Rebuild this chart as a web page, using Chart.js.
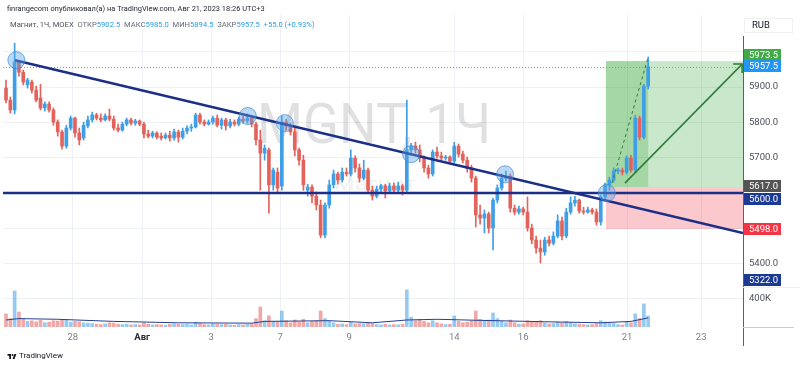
<!DOCTYPE html>
<html><head><meta charset="utf-8">
<script src="https://cdn.jsdelivr.net/npm/chart.js@4"></script>
<style>
html,body{margin:0;padding:0;background:#fff;width:800px;height:367px;overflow:hidden}
#wrap{position:relative;width:800px;height:367px}
canvas{position:absolute;left:0;top:0}
.t{position:absolute;white-space:nowrap;font-family:Roboto,sans-serif;line-height:1}
.v{color:#2f9be0}
</style></head><body>
<div id="wrap">
<canvas id="c" width="800" height="367"></canvas>
<div class="t" id="h1" style="left:7px;top:5px;font-size:9px;color:#1e222d">finrangecom опубликовал(а) на TradingView.com, Авг 21, 2023 18:26 UTC+3</div>
<div class="t" id="h2" style="left:10px;top:21px;font-size:9px;color:#6a6d78"></div>
<div class="t" id="ft" style="left:7px;top:352px;font-size:8px;color:#131722;display:flex;align-items:center"><svg width="10" height="7" viewBox="0 0 36 28" style="margin-right:2px"><path d="M14 24H7V11H0V4h14v20zM28 24h-8l7.5-20h8L28 24z" fill="#131722"/><circle cx="20" cy="8" r="4" fill="#131722"/></svg><span id="ftx">TradingView</span></div>
</div>
<script>
// ---- data (hourly candles, MOEX:MGNT) ----
const opens = [
5897,5863,5835,5971,5942,5906,5914,5891,5869,5841,
5852,5835,5801,5773,5733,5784,5812,5770,5756,5790,
5807,5821,5812,5807,5818,5809,5784,5778,5795,5807,
5798,5804,5795,5767,5761,5770,5761,5756,5764,5756,
5773,5758,5775,5784,5787,5821,5801,5795,5801,5812,
5792,5807,5790,5801,5795,5809,5804,5812,5795,5750,
5713,5722,5623,5659,5620,5801,5790,5773,5722,5693,
5608,5617,5591,5566,5481,5566,5623,5654,5637,5659,
5654,5699,5671,5642,5665,5608,5591,5611,5620,5606,
5620,5608,5620,5608,5722,5733,5722,5699,5671,5654,
5716,5705,5699,5702,5690,5733,5710,5693,5671,5642,
5538,5529,5541,5501,5580,5614,5642,5648,5557,5546,
5555,5546,5501,5467,5444,5433,5467,5458,5478,5521,
5478,5546,5572,5580,5549,5546,5552,5546,5518,5589,
5623,5637,5662,5665,5659,5699,5665,5812,5758,5902.5];
const closes = [
5863,5835,5971,5942,5914,5920,5891,5863,5841,5852,
5835,5801,5773,5733,5784,5812,5770,5750,5792,5807,
5821,5812,5807,5818,5809,5784,5778,5795,5807,5798,
5804,5795,5767,5761,5770,5758,5756,5764,5756,5773,
5758,5775,5784,5787,5821,5801,5795,5801,5812,5792,
5807,5790,5801,5795,5809,5804,5812,5795,5750,5713,
5727,5623,5665,5614,5801,5790,5773,5722,5693,5623,
5617,5591,5566,5481,5566,5623,5654,5637,5659,5654,
5699,5671,5642,5665,5608,5591,5611,5620,5606,5620,
5608,5620,5608,5722,5733,5722,5699,5671,5654,5716,
5705,5699,5702,5690,5733,5710,5693,5671,5642,5538,
5529,5541,5501,5580,5614,5642,5648,5557,5546,5555,
5546,5501,5467,5444,5433,5467,5458,5478,5521,5478,
5546,5572,5580,5549,5546,5552,5546,5518,5589,5623,
5637,5662,5665,5659,5699,5665,5812,5758,5902.5,5957.5];
const highs = [
5920,5872,6024,5976,5948,5925,5920,5903,5908,5858,
5858,5841,5807,5778,5792,5818,5815,5784,5801,5818,
5829,5826,5824,5824,5838,5818,5795,5801,5812,5812,
5809,5807,5801,5778,5775,5773,5770,5770,5775,5781,
5778,5784,5790,5795,5826,5826,5807,5807,5818,5821,
5812,5812,5809,5807,5815,5818,5824,5818,5801,5778,
5736,5727,5671,5671,5818,5809,5798,5784,5727,5707,
5625,5623,5603,5580,5572,5637,5665,5659,5671,5671,
5722,5705,5682,5693,5671,5620,5620,5625,5625,5628,
5628,5631,5625,5863,5741,5744,5736,5705,5679,5722,
5730,5716,5707,5705,5744,5739,5719,5702,5679,5648,
5566,5552,5546,5586,5623,5654,5662,5654,5566,5563,
5560,5589,5512,5478,5467,5475,5478,5490,5538,5532,
5557,5589,5591,5583,5560,5560,5557,5555,5594,5628,
5645,5671,5671,5671,5705,5707,5820,5818,5908,5985];
const lows = [
5855,5826,5824,5931,5906,5897,5883,5858,5835,5832,
5829,5792,5761,5724,5727,5778,5758,5736,5750,5784,
5801,5807,5801,5804,5804,5778,5773,5775,5790,5792,
5792,5790,5756,5756,5756,5753,5750,5753,5747,5750,
5744,5753,5767,5775,5784,5795,5790,5792,5795,5787,
5781,5778,5784,5790,5790,5798,5798,5787,5736,5608,
5693,5543,5608,5603,5608,5778,5764,5705,5679,5608,
5591,5572,5552,5473,5473,5557,5614,5625,5631,5648,
5648,5659,5631,5637,5600,5580,5586,5603,5586,5600,
5600,5603,5594,5600,5707,5713,5688,5659,5642,5648,
5699,5693,5693,5685,5685,5702,5685,5659,5631,5504,
5512,5487,5487,5439,5572,5608,5634,5546,5538,5540,
5538,5492,5456,5430,5402,5424,5450,5453,5473,5467,
5473,5540,5563,5543,5540,5543,5540,5509,5509,5580,
5608,5631,5654,5651,5654,5659,5659,5750,5753,5894.5];
const volumesK = [
186,120,514,214,110,80,90,75,95,60,
70,90,85,100,95,70,80,75,60,55,
50,40,35,45,60,55,40,35,40,30,
35,30,60,40,30,35,30,25,40,45,
40,35,40,30,70,50,35,30,45,40,
35,40,30,25,35,30,40,45,120,286,
90,160,80,75,229,90,60,100,70,110,
60,80,90,229,120,90,60,40,45,35,
70,45,50,45,60,50,35,30,40,30,
35,30,40,530,140,90,110,80,60,90,
60,45,35,40,157,80,60,70,90,229,
110,90,100,200,120,80,60,100,60,40,
45,90,80,70,90,60,45,50,70,60,
80,60,45,40,35,30,35,50,90,70,
60,50,35,30,80,60,186,120,330,157];
const volMAIdx  = [0, 3, 12, 25, 40, 57, 60, 75, 85, 93, 100, 110, 125, 138, 145, 149];
const volMAK    = [100,120,110,80, 60, 55, 80, 90, 60,100, 110, 95,  75,  60,  80, 130];

// time axis
const timeTickIdx = [15.5, 31.6, 47.6, 63.6, 79.6, 104.0, 120.0, 144.1, 161.3];
const timeTickLabels = ['28','Авг','3','7','9','14','16','21','23'];
// price axis
const priceTicks = [5400,5500,5600,5700,5800,5900,6000];
const priceLabelled = [5400,5700,5800,5900];
const volTicks = [400000];

// drawings
const trendIdx = [2.09, 171];   const trendVal = [5976, 5487];
const levelIdx = [-0.7, 171];   const levelVal = [5600, 5600];
const touchIdx = [2.4, 56.1, 64.7, 94.0, 115.8, 139.4];
const touchVal = [5976, 5818, 5798, 5710, 5653, 5600];
const dashIdx  = [140.6, 149];  const dashVal  = [5628, 5985];
const arrowIdx = [143.6, 170.8];const arrowVal = [5628, 5965];
const posStartIdx = 139.2, posNowIdx = 149;
const targetPrice = 5973.5, entryPrice = 5617.0, stopPrice = 5498.0, lastPrice = 5957.5;
const tagValues = [5973.5, 5957.5, 5617.0, 5600.0, 5498.0, 5322.0];
const tagColors = ['#43a947','#2196f3','#545454','#1b3a93','#f23645','#1b3a93'];
const tagShift  = [-6.5, -1, -1, 5.5, 0, 0];

// ---- header from data ----
(function(){
  const n = closes.length - 1;
  const ch = closes[n] - closes[n-1];
  const pct = ch / closes[n-1] * 100;
  const f = v => v.toFixed(1);
  document.getElementById('h2').innerHTML =
    '<span style="color:#50535e">Магнит, 1Ч, MOEX</span>&nbsp;&nbsp;ОТКР<span class="v">'+f(opens[n])+
    '</span>&nbsp;&nbsp;МАКС<span class="v">'+f(highs[n])+'</span>&nbsp;&nbsp;МИН<span class="v">'+f(lows[n])+
    '</span>&nbsp;&nbsp;ЗАКР<span class="v">'+f(closes[n])+'</span>&nbsp;&nbsp;<span class="v">'+(ch>=0?'+':'')+f(ch)+
    ' ('+(pct>=0?'+':'')+pct.toFixed(2)+'%)</span>';
  const fit = (id, target) => { const el = document.getElementById(id);
    const fs = parseFloat(el.style.fontSize); const w = el.getBoundingClientRect().width;
    if (w > 0) el.style.fontSize = (fs * target / w) + 'px'; };
  fit('h1', 258); fit('h2', 305);
})();

const UP = '#3f9fe6', DOWN = '#e3635c';
const upOrDown = c => (closes[c.dataIndex] >= opens[c.dataIndex] ? UP : DOWN);
const idx = opens.map((_, i) => i);

Chart.defaults.font.family = 'Roboto, sans-serif';

const overlay = {
  id: 'overlay',
  beforeDatasetsDraw(chart) {
    const {ctx, chartArea: a, scales: {x, y}} = chart;
    ctx.save();
    ctx.beginPath(); ctx.rect(a.left, a.top, a.right - a.left, a.bottom - a.top); ctx.clip();
    // watermark
    ctx.fillStyle = 'rgba(0,0,0,0.12)';
    ctx.font = '56px Roboto, sans-serif';
    let t = 'MGNT, 1Ч', w = ctx.measureText(t).width;
    ctx.save(); ctx.translate(257, 143); ctx.scale(234 / w, 1); ctx.fillText(t, 0, 0); ctx.restore();
    ctx.fillStyle = 'rgba(0,0,0,0.06)';
    ctx.font = '18px Roboto, sans-serif';
    t = 'Магнит'; w = ctx.measureText(t).width;
    ctx.save(); ctx.translate(334, 190); ctx.scale(82 / w, 1); ctx.fillText(t, 0, 0); ctx.restore();
    // long position
    const xl = x.getPixelForValue(posStartIdx), xn = x.getPixelForValue(posNowIdx), xr = a.right;
    const yt = y.getPixelForValue(targetPrice), ye = y.getPixelForValue(entryPrice), ys = y.getPixelForValue(stopPrice);
    ctx.fillStyle = 'rgba(76,175,80,0.30)';
    ctx.fillRect(xl, yt, xr - xl, ye - yt);
    ctx.fillStyle = 'rgba(76,175,80,0.30)';
    ctx.fillRect(xl, yt, xn - xl, ye - yt);
    ctx.fillStyle = 'rgba(242,54,69,0.27)';
    ctx.fillRect(xl, ye, xr - xl, ys - ye);
    // last price dotted line
    const yl = Math.round(y.getPixelForValue(lastPrice)) + 0.5;
    ctx.strokeStyle = '#7fa08f'; ctx.lineWidth = 1; ctx.setLineDash([1, 2]);
    ctx.beginPath(); ctx.moveTo(a.left, yl); ctx.lineTo(a.right, yl); ctx.stroke();
    ctx.restore();
  },
  afterDatasetsDraw(chart) {
    const {ctx, scales: {x, y}} = chart;
    const x2 = x.getPixelForValue(arrowIdx[1]), y2 = y.getPixelForValue(arrowVal[1]);
    ctx.save();
    ctx.strokeStyle = '#2e7d32'; ctx.lineWidth = 1.5;
    ctx.beginPath(); ctx.moveTo(x2 - 9, y2); ctx.lineTo(x2, y2); ctx.lineTo(x2, y2 + 9); ctx.stroke();
    ctx.restore();
  },
  afterDraw(chart) {
    const {ctx, chartArea: a, scales: {y}} = chart;
    ctx.save();
    ctx.strokeStyle = '#5d606b'; ctx.lineWidth = 1;
    ctx.beginPath(); ctx.moveTo(a.right + 0.5, 36); ctx.lineTo(a.right + 0.5, 346); ctx.stroke();
    ctx.strokeStyle = '#c9ccd3';
    ctx.beginPath(); ctx.moveTo(a.right, 327.5); ctx.lineTo(794, 327.5); ctx.stroke();
    ctx.strokeStyle = '#eceef2';
    ctx.beginPath(); ctx.moveTo(a.right, 287.5); ctx.lineTo(800, 287.5); ctx.stroke();
    ctx.fillStyle = '#fff'; ctx.fillRect(a.right + 1, 18, 49, 15);
    ctx.strokeStyle = '#eef0f3'; ctx.strokeRect(a.right + 1.5, 18.5, 48, 14);
    ctx.fillStyle = '#131722'; ctx.font = '9.5px Roboto, sans-serif'; ctx.textBaseline = 'middle';
    ctx.fillText('RUB', a.right + 9, 26);
    const paneBottom = y.bottom;
    tagValues.forEach((v, k) => {
      let cy = y.getPixelForValue(v) + tagShift[k];
      cy = Math.min(cy, paneBottom - 7.5);
      ctx.fillStyle = tagColors[k];
      ctx.fillRect(a.right + 1, Math.round(cy - 6), 37, 12);
      ctx.fillStyle = '#ffffff';
      ctx.font = '9.5px Roboto, sans-serif';
      ctx.textBaseline = 'middle';
      ctx.fillText(v.toFixed(1), a.right + 6, Math.round(cy) + 0.5);
    });
    ctx.restore();
  }
};

new Chart(document.getElementById('c'), {
  type: 'bar',
  data: {
    datasets: [
      { label: 'volume', yAxisID: 'yv', order: 9, grouped: false, barThickness: 3,
        data: idx.map(i => ({x: i, y: volumesK[i] * 1000})),
        backgroundColor: c => (closes[c.dataIndex] >= opens[c.dataIndex] ? 'rgba(63,159,230,0.55)' : 'rgba(227,99,92,0.55)') },
      { label: 'wicks', yAxisID: 'y', order: 8, grouped: false, barThickness: 1,
        data: idx.map(i => ({x: i, y: [lows[i], highs[i]]})), backgroundColor: upOrDown },
      { label: 'bodies', yAxisID: 'y', order: 7, grouped: false, barThickness: 3, minBarLength: 1,
        data: idx.map(i => ({x: i, y: [opens[i], closes[i]]})), backgroundColor: upOrDown },
      { type: 'line', label: 'volMA', yAxisID: 'yv', order: 6, borderColor: '#23408f', borderWidth: 1,
        pointRadius: 0, data: volMAIdx.map((v, k) => ({x: v, y: volMAK[k] * 1000})) },
      { type: 'line', label: 'dash', yAxisID: 'y', order: 5, borderColor: '#2e7d32', borderWidth: 1,
        borderDash: [3, 3], pointRadius: 0, data: dashIdx.map((v, k) => ({x: v, y: dashVal[k]})) },
      { type: 'line', label: 'arrow', yAxisID: 'y', order: 4, borderColor: '#2e7d32', borderWidth: 1.5,
        pointRadius: 0, data: arrowIdx.map((v, k) => ({x: v, y: arrowVal[k]})) },
      { type: 'line', label: 'level', yAxisID: 'y', order: 3, borderColor: '#1c2f88', borderWidth: 2.5,
        pointRadius: 0, data: levelIdx.map((v, k) => ({x: v, y: levelVal[k]})) },
      { type: 'line', label: 'trend', yAxisID: 'y', order: 2, borderColor: '#1c2f88', borderWidth: 2.5,
        pointRadius: 0, data: trendIdx.map((v, k) => ({x: v, y: trendVal[k]})) },
      { type: 'scatter', label: 'touches', yAxisID: 'y', order: 1, pointRadius: 8.5,
        backgroundColor: 'rgba(90,165,230,0.42)', borderColor: 'rgba(60,130,210,0.65)', borderWidth: 1,
        data: touchIdx.map((v, k) => ({x: v, y: touchVal[k]})) }
    ]
  },
  options: {
    responsive: false, animation: false, devicePixelRatio: 1,
    layout: { autoPadding: false, padding: { top: 15, left: 3, right: 0, bottom: 20 } },
    plugins: { legend: { display: false }, tooltip: { enabled: false } },
    scales: {
      x: {
        type: 'linear', min: -0.7, max: 171, offset: false,
        grid: { color: '#edf0f4', drawTicks: false, offset: false },
        border: { display: false },
        afterBuildTicks: s => { s.ticks = timeTickIdx.map(v => ({value: v})); },
        afterFit: s => { s.height = 20; s.paddingLeft = 0; s.paddingRight = 0; },
        ticks: {
          autoSkip: false, maxRotation: 0, padding: 5,
          callback: v => { const k = timeTickIdx.indexOf(v); return k >= 0 ? timeTickLabels[k] : ''; },
          color: c => (c.tick && c.tick.label === 'Авг' ? '#2a2e39' : '#7d808b'),
          font: c => ({ size: 9.5, weight: (c.tick && c.tick.label === 'Авг') ? 'bold' : 'normal' })
        }
      },
      y: {
        type: 'linear', position: 'right', stack: 'pane', stackWeight: 272,
        min: 5334, max: 6104, beginAtZero: false,
        grid: { color: '#edf0f4', drawTicks: false },
        border: { display: false },
        afterBuildTicks: s => { s.ticks = priceTicks.map(v => ({value: v})); },
        afterFit: s => { s.width = 57; s.paddingTop = 0; s.paddingBottom = 0; },
        ticks: { padding: 6, color: '#4c4f59', font: { size: 9.5 }, autoSkip: false,
          callback: v => (priceLabelled.includes(v) ? v.toFixed(1) : '') }
      },
      yv: {
        type: 'linear', position: 'right', stack: 'pane', stackWeight: 40,
        min: 0, max: 571000, beginAtZero: true,
        grid: { color: '#edf0f4', drawTicks: false },
        border: { display: false },
        afterBuildTicks: s => { s.ticks = volTicks.map(v => ({value: v})); },
        afterFit: s => { s.width = 57; s.paddingTop = 0; s.paddingBottom = 0; },
        ticks: { padding: 6, color: '#4c4f59', font: { size: 9.5 }, autoSkip: false,
          callback: v => (v / 1000) + 'K' }
      }
    }
  },
  plugins: [overlay]
});
</script>
</body></html>
